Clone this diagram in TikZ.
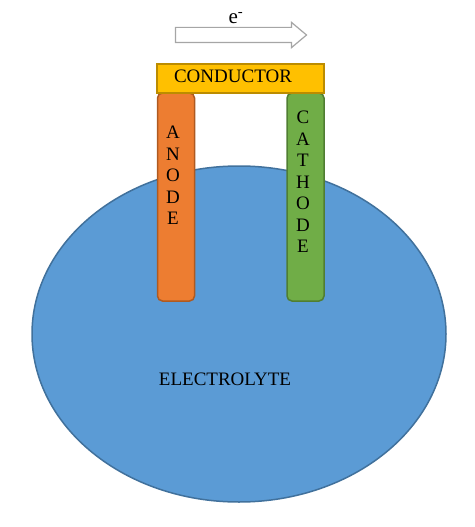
\documentclass[tikz,border=0pt]{standalone}
\usepackage{fontspec}
\setmainfont{Liberation Serif}
\usetikzlibrary{shapes.arrows,shapes.geometric}
\definecolor{lyteblue}{RGB}{91,155,213}
\definecolor{lyteedge}{RGB}{65,113,156}
\definecolor{anodefill}{RGB}{237,125,49}
\definecolor{anodeedge}{RGB}{174,90,33}
\definecolor{cathfill}{RGB}{112,173,71}
\definecolor{cathedge}{RGB}{80,126,50}
\definecolor{condfill}{RGB}{255,192,0}
\definecolor{condedge}{RGB}{188,140,0}
\begin{document}
\begin{tikzpicture}[x=1pt,y=-1pt,
  rod node/.style={draw,line width=1.5pt,rounded corners=5pt,minimum width=37pt,minimum height=208pt,inner sep=0pt},
  rod text/.style={align=center,font=\fontsize{19}{21.5}\selectfont,inner sep=0pt},
  big text/.style={font=\fontsize{19}{21}\selectfont,inner sep=0pt}]
  \useasboundingbox (0,0) rectangle (474,527);

  \node[ellipse,draw=lyteedge,fill=lyteblue,line width=1.5pt,minimum width=414pt,minimum height=336pt,inner sep=0pt] (lyte) at (239,334) {};
  \node[big text] (lytetext) at (225,379) {ELECTROLYTE};

  \node[rod node,draw=anodeedge,fill=anodefill] (anode) at (176,197) {};
  \node[rod node,draw=cathedge,fill=cathfill] (cathode) at (305.5,197) {};
  \node[rod text,anchor=north] (anodetext) at (173,126) {A\\N\\O\\D\\E};
  \node[rod text,anchor=north] (cathtext) at (303,111) {C\\A\\T\\H\\O\\D\\E};

  \node[draw=condedge,fill=condfill,line width=1.5pt,minimum width=167pt,minimum height=29pt,inner sep=0pt] (cond) at (240.5,78.5) {};
  \node[big text] (condtext) at (233,76) {CONDUCTOR};

  \node[single arrow,draw=black!35,fill=white,line width=1.2pt,minimum width=24pt,minimum height=131pt,inner xsep=0pt,inner ysep=7pt,single arrow head extend=5pt,single arrow tip angle=80] (flow) at (236.5,35) {};
  \node[font=\fontsize{21}{23}\selectfont,inner sep=0pt] (elec) at (236,18) {e\textsuperscript{-}};
\end{tikzpicture}
\end{document}
